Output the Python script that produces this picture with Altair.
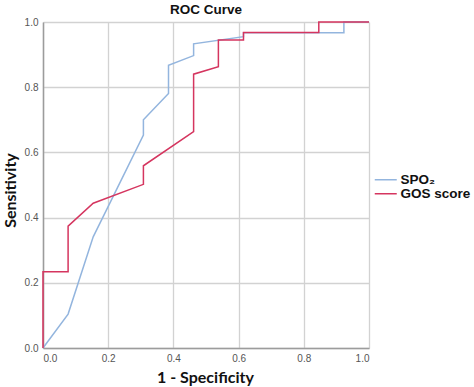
import altair as alt
import pandas as pd

# ROC curve coordinates (1 - specificity, sensitivity) for each predictor
spo2_fpr = [0.0, 0.077, 0.154, 0.308, 0.308, 0.385, 0.385, 0.462, 0.462, 0.615, 0.615, 0.923, 0.923, 1.0]
spo2_tpr = [0.0, 0.104, 0.341, 0.653, 0.700, 0.781, 0.867, 0.897, 0.933, 0.955, 0.967, 0.967, 1.0, 1.0]

gos_fpr = [0.0, 0.0, 0.077, 0.077, 0.154, 0.308, 0.308, 0.462, 0.462, 0.538, 0.538, 0.615, 0.615, 0.846, 0.846, 1.0]
gos_tpr = [0.0, 0.234, 0.234, 0.374, 0.444, 0.502, 0.559, 0.664, 0.840, 0.863, 0.945, 0.945, 0.968, 0.968, 1.0, 1.0]

series_names = ["SPO₂", "GOS score"]
series_colors = ["#93b5de", "#d5355f"]
tick_values = [0.0, 0.2, 0.4, 0.6, 0.8, 1.0]

spo2_df = pd.DataFrame({"fpr": spo2_fpr, "tpr": spo2_tpr,
                        "step": range(len(spo2_fpr)), "series": series_names[0]})
gos_df = pd.DataFrame({"fpr": gos_fpr, "tpr": gos_tpr,
                       "step": range(len(gos_fpr)), "series": series_names[1]})

color = alt.Color(
    "series:N",
    scale=alt.Scale(domain=series_names, range=series_colors),
    legend=alt.Legend(
        title=None,
        orient="none",
        legendX=336,
        legendY=151,
        symbolType="M-2,0H2",
        symbolSize=121,
        symbolStrokeWidth=1.5,
        labelFont="Liberation Sans",
        labelFontSize=13.5,
        labelFontWeight="bold",
        labelColor="#111111",
        labelOffset=8,
        rowPadding=-1,
        padding=0,
    ),
)

x_enc = alt.X(
    "fpr:Q",
    scale=alt.Scale(domain=[0, 1], nice=False),
    axis=alt.Axis(
        title="1 - Specificity",
        values=tick_values,
        format=".1f",
        titleX=162,
        titleY=34,
        titleBaseline="alphabetic",
    ),
)
y_enc = alt.Y(
    "tpr:Q",
    scale=alt.Scale(domain=[0, 1], nice=False),
    axis=alt.Axis(
        title="Sensitivity",
        values=tick_values,
        format=".1f",
        titleX=-33,
        titleY=168,
        titleBaseline="middle",
    ),
)

base_line = dict(strokeWidth=1.5, interpolate="linear")

spo2_line = alt.Chart(spo2_df).mark_line(**base_line).encode(
    x=x_enc, y=y_enc, color=color, order="step:Q"
)
gos_line = alt.Chart(gos_df).mark_line(**base_line).encode(
    x=x_enc, y=y_enc, color=color, order="step:Q"
)

chart = (
    alt.layer(spo2_line, gos_line)
    .properties(
        width=326,
        height=326,
        title=alt.TitleParams(
            "ROC Curve",
            font="Liberation Sans",
            fontSize=13.5,
            fontWeight="bold",
            color="#111111",
            anchor="middle",
            offset=1,
        ),
        autosize=alt.AutoSizeParams(type="none"),
        padding={"left": 43, "top": 22, "right": 105, "bottom": 39},
    )
    .configure(background="white")
    .configure_view(stroke=None)
    .configure_axis(
        grid=True,
        gridColor="#d2d2d2",
        gridWidth=1.3,
        domainColor="#9c9c9c",
        domainWidth=1.5,
        ticks=False,
        labelFont="Liberation Sans",
        labelFontSize=10,
        labelColor="#555555",
        labelPadding=5,
        titleFont="Lato",
        titleFontSize=16,
        titleFontWeight="bold",
        titleColor="#111111",
    )
)

chart.save("out.html", embed_options={"renderer": "svg", "actions": False})
